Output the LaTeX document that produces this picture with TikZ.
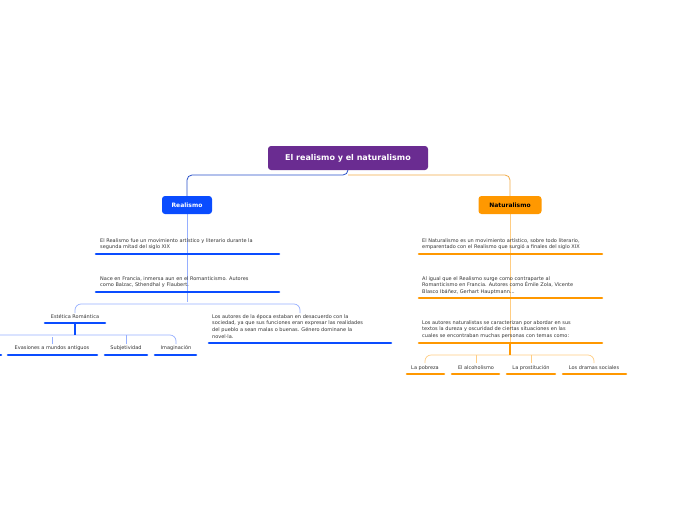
\documentclass[tikz,border=0pt]{standalone}
\usepackage{fontspec}
\setmainfont{DejaVu Sans}
\begin{document}
\begin{tikzpicture}[x=1pt,y=-1pt,
 txt/.style={font=\fontsize{5}{6.6}\selectfont,text=black!80,align=left,anchor=north west,inner sep=0},
 ctxt/.style={font=\fontsize{5}{6.6}\selectfont,text=black!80,inner sep=0},
 bbar/.style={line width=2.6pt,line cap=round,draw=blue!70!cyan!40!blue,color={rgb,255:red,10;green,76;blue,255}},
 obar/.style={line width=2.6pt,line cap=round,color={rgb,255:red,255;green,152;blue,0}},
 bl/.style={draw={rgb,255:red,150;green,175;blue,255},line width=0.7pt,rounded corners=6pt},
 ol/.style={draw={rgb,255:red,255;green,205;blue,130},line width=0.7pt,rounded corners=6pt}]
\useasboundingbox (0,0) rectangle (697,520);
\clip (0,0) rectangle (697,520);
% connectors
\draw[line width=0.8pt,draw={rgb,255:red,40;green,80;blue,200},rounded corners=5pt] (348,170) -- (348,175) -- (187,175) -- (187,196);
\draw[line width=0.8pt,draw={rgb,255:red,240;green,170;blue,70},rounded corners=5pt] (348,175) -- (510,175) -- (510,196);
\draw[bl] (187,214) -- (187,302);
\draw[bl] (75,313) -- (75,304) -- (300,304) -- (300,313);
\draw[bl] (-20,344) -- (-20,335) -- (176,335) -- (176,344);
\draw[bl] (52,344) -- (52,337) ;
\draw[bl] (126,344) -- (126,335);
\draw[line width=1.4pt,draw={rgb,255:red,10;green,76;blue,255}] (75,324) -- (75,335);
\draw[ol] (510,214) -- (510,343);
\draw[ol] (425,363) -- (425,355) -- (594,355) -- (594,363);
\draw[ol] (476,363) -- (476,355);
\draw[ol] (531,363) -- (531,355);
\draw[line width=1.4pt,draw={rgb,255:red,255;green,152;blue,0}] (510,343) -- (510,355);
% main nodes
\node[fill={rgb,255:red,106;green,44;blue,145},rounded corners=3pt,minimum width=160pt,minimum height=24pt,text=white,font=\fontsize{8}{9}\selectfont\bfseries] (title) at (348,158) {El realismo y el naturalismo};
\node[fill={rgb,255:red,10;green,76;blue,255},rounded corners=3pt,minimum width=50pt,minimum height=18pt,text=white,font=\fontsize{6}{7}\selectfont\bfseries] (real) at (187,205) {Realismo};
\node[fill={rgb,255:red,255;green,152;blue,0},rounded corners=3pt,minimum width=63pt,minimum height=18pt,text=black,font=\fontsize{6}{7}\selectfont\bfseries] (nat) at (510,205) {Naturalismo};
% left texts
\node[txt] (r1) at (100,238) {El Realismo fue un movimiento artístico y literario durante la\\segunda mitad del siglo XIX};
\draw[bbar] (96,254) -- (279,254);
\node[txt] (r2) at (100,276) {Nace en Francia, inmersa aun en el Romanticismo. Autores\\como Balzac, Sthendhal y Flaubert.};
\draw[bbar] (96,292) -- (279,292);
\node[ctxt] (est) at (75,317) {Estética Romántica};
\draw[bbar] (45,323) -- (105,323);
\node[txt] (aut) at (212,314) {Los autores de la época estaban en desacuerdo con la\\sociedad, ya que sus funciones eran expresar las realidades\\del pueblo a sean malas o buenas. Género dominane la\\novel·la.};
\draw[bbar] (209,343) -- (391,343);
\node[ctxt] (eva) at (52,348) {Evasiones a mundos antiguos};
\draw[bbar] (8,355) -- (97,355);
\draw[bbar] (-20,355) -- (1,355);
\node[ctxt] (sub) at (126,348) {Subjetividad};
\draw[bbar] (105,355) -- (147,355);
\node[ctxt] (ima) at (176,348) {Imaginación};
\draw[bbar] (155,355) -- (196,355);
% right texts
\node[txt] (n1) at (422,238) {El Naturalismo es un movimiento artístico, sobre todo literario,\\emparentado con el Realismo que surgió a finales del siglo XIX};
\draw[obar] (419,254) -- (602,254);
\node[txt] (n2) at (422,276) {Al igual que el Realismo surge como contraparte al\\Romanticismo en Francia. Autores como Émile Zola, Vicente\\Blasco Ibáñez, Gerhart Hauptmann...};
\draw[obar] (419,298) -- (602,298);
\node[txt] (n3) at (422,320) {Los autores naturalistas se caracterizan por abordar en sus\\textos la dureza y oscuridad de ciertas situaciones en las\\cuales se encontraban muchas personas con temas como:};
\draw[obar] (419,343) -- (602,343);
\node[ctxt] (c1) at (425,368) {La pobreza};
\draw[obar] (407,374) -- (444,374);
\node[ctxt] (c2) at (476,368) {El alcoholismo};
\draw[obar] (452,374) -- (499,374);
\node[ctxt] (c3) at (531,368) {La prostitución};
\draw[obar] (507,374) -- (555,374);
\node[ctxt] (c4) at (594,368) {Los dramas sociales};
\draw[obar] (563,374) -- (626,374);
\end{tikzpicture}
\end{document}
